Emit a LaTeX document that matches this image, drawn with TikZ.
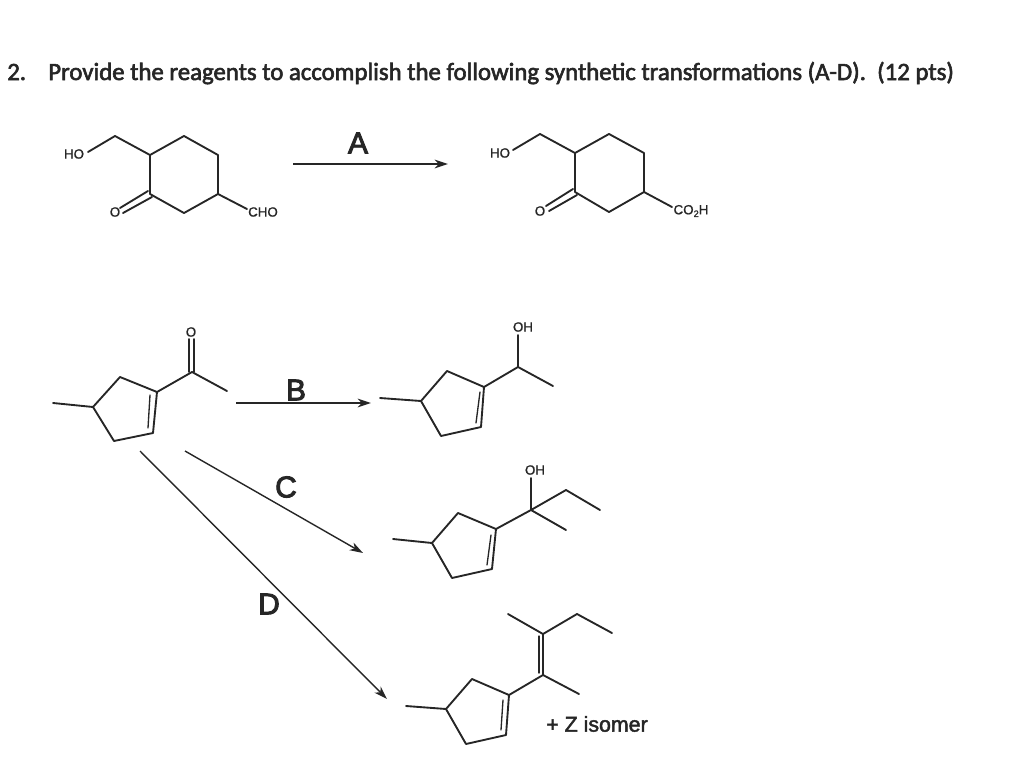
\documentclass[tikz,border=0pt]{standalone}
\usepackage{fontspec}
\setmainfont{Liberation Sans}
\newfontfamily\titlefont[FakeBold=2.4]{Carlito}
\newfontfamily\heavyfont[FakeBold=3]{Liberation Sans}
\newfontfamily\notefont[FakeBold=2]{Liberation Sans}
\newfontfamily\atomfont[FakeBold=1]{Liberation Sans}
\usetikzlibrary{arrows.meta}
\definecolor{ink}{HTML}{262626}
\tikzset{
  x=0.75pt,y=-0.75pt,
  bond/.style={draw=ink,line width=1.4pt,line cap=round,line join=round},
  thin bond/.style={draw=ink,line width=1pt,line cap=round},
  rxn/.style={draw=ink,line width=1.05pt,-{Stealth[length=10pt,width=6.5pt,inset=3pt]}},
  atom/.style={inner sep=0pt,text=ink,font=\atomfont\fontsize{10}{10}\selectfont},
  letter/.style={inner sep=0pt,text=ink,font=\heavyfont\fontsize{22.5}{22.5}\selectfont},
  note/.style={inner sep=0pt,text=ink,font=\notefont\fontsize{16}{16}\selectfont},
  heading/.style={inner sep=0pt,anchor=base west,text=ink,font=\titlefont\fontsize{18.6}{18.6}\selectfont}
}
\begin{document}
\begin{tikzpicture}
\useasboundingbox (0,0) rectangle (1024,778);
\fill[white] (0,0) rectangle (1024,778);
% heading
\node[heading] (num) at (7,80) {2.};
\node[heading] (title) at (48,80) {Provide the reagents to accomplish the following synthetic transformations (A-D).\ \ (12 pts)};
% molecule A left
\node[atom] (hoa) at (74,154) {HO};
\node[atom] (oa) at (115,212) {O};
\node[atom] (choa) at (263,212) {CHO};
\coordinate (a0) at (115,136);
\coordinate (a1) at (150,155);
\coordinate (a2) at (184,136);
\coordinate (a3) at (218,155);
\coordinate (a4) at (218,194);
\coordinate (a5) at (184,213);
\coordinate (a6) at (150,194);
\coordinate (ab1) at (88,152);
\coordinate (ab2) at (247,209);
\coordinate (ad1) at (152,197);
\coordinate (ad2) at (123,213);
\coordinate (ad3) at (148,191);
\coordinate (ad4) at (120,208);
\draw[bond] (ab1) -- (a0) -- (a1) -- (a2) -- (a3) -- (a4) -- (a5) -- (a6) -- (a1);
\draw[bond] (a4) -- (ab2);
\draw[bond] (ad1) -- (ad2);
\draw[bond] (ad3) -- (ad4);
% molecule A right
\node[atom] (hob) at (500,153) {HO};
\node[atom] (ob) at (540,211) {O};
\node[atom] (cooh) at (691,211) {CO\raisebox{-2pt}{\fontsize{7}{7}\selectfont 2}H};
\coordinate (b0) at (540,134);
\coordinate (b1) at (575,153);
\coordinate (b2) at (609,134);
\coordinate (b3) at (644,153);
\coordinate (b4) at (644,192);
\coordinate (b5) at (609,212);
\coordinate (b6) at (575,192);
\coordinate (bb1) at (513,150);
\coordinate (bb2) at (672,207);
\coordinate (bd1) at (577,195);
\coordinate (bd2) at (549,211);
\coordinate (bd3) at (573,189);
\coordinate (bd4) at (546,206);
\draw[bond] (bb1) -- (b0) -- (b1) -- (b2) -- (b3) -- (b4) -- (b5) -- (b6) -- (b1);
\draw[bond] (b4) -- (bb2);
\draw[bond] (bd1) -- (bd2);
\draw[bond] (bd3) -- (bd4);
% molecule B left
\node[atom] (oc) at (191,332) {O};
\coordinate (cm) at (53,403);
\coordinate (c1) at (93,407);
\coordinate (c2) at (120,377);
\coordinate (c3) at (157,392);
\coordinate (c4) at (153,433);
\coordinate (c5) at (114,441);
\coordinate (c6) at (192,372);
\coordinate (c7) at (227,391);
\coordinate (ci1) at (150,395);
\coordinate (ci2) at (148,428);
\coordinate (cd1) at (189,372);
\coordinate (cd2) at (189,339);
\coordinate (cd3) at (194,372);
\coordinate (cd4) at (194,339);
\draw[bond] (cm) -- (c1) -- (c2) -- (c3) -- (c4) -- (c5) -- (c1);
\draw[bond] (c3) -- (c6) -- (c7);
\draw[thin bond] (ci1) -- (ci2);
\draw[bond] (cd1) -- (cd2);
\draw[bond] (cd3) -- (cd4);
% molecule B right
\node[atom] (ohd) at (523,327) {OH};
\coordinate (dm) at (380,398);
\coordinate (d1) at (421,401);
\coordinate (d2) at (447,371);
\coordinate (d3) at (484,387);
\coordinate (d4) at (481,427);
\coordinate (d5) at (441,436);
\coordinate (d6) at (518,367);
\coordinate (d7) at (553,386);
\coordinate (d8) at (518,335);
\coordinate (di1) at (480,392);
\coordinate (di2) at (476,423);
\draw[bond] (dm) -- (d1) -- (d2) -- (d3) -- (d4) -- (d5) -- (d1);
\draw[bond] (d3) -- (d6) -- (d7);
\draw[bond] (d6) -- (d8);
\draw[thin bond] (di1) -- (di2);
% molecule C
\node[atom] (ohe) at (535,470) {OH};
\coordinate (em) at (393,539);
\coordinate (e1) at (432,543);
\coordinate (e2) at (458,513);
\coordinate (e3) at (496,529);
\coordinate (e4) at (492,569);
\coordinate (e5) at (452,578);
\coordinate (e6) at (531,510);
\coordinate (e7) at (566,490);
\coordinate (e8) at (600,510);
\coordinate (e9) at (566,530);
\coordinate (e10) at (531,478);
\coordinate (ei1) at (491,535);
\coordinate (ei2) at (487,565);
\draw[bond] (em) -- (e1) -- (e2) -- (e3) -- (e4) -- (e5) -- (e1);
\draw[bond] (e3) -- (e6) -- (e7) -- (e8);
\draw[bond] (e6) -- (e9);
\draw[bond] (e6) -- (e10);
\draw[thin bond] (ei1) -- (ei2);
% molecule D
\coordinate (fm) at (406,706);
\coordinate (f1) at (446,709);
\coordinate (f2) at (472,679);
\coordinate (f3) at (509,695);
\coordinate (f4) at (506,735);
\coordinate (f5) at (466,744);
\coordinate (f6) at (543,675);
\coordinate (f7) at (543,634);
\coordinate (f8) at (508,614);
\coordinate (f9) at (577,614);
\coordinate (f10) at (612,633);
\coordinate (f11) at (579,694);
\coordinate (fi1) at (503,700);
\coordinate (fi2) at (501,730);
\coordinate (fd1) at (539,636);
\coordinate (fd2) at (539,673);
\draw[bond] (fm) -- (f1) -- (f2) -- (f3) -- (f4) -- (f5) -- (f1);
\draw[bond] (f3) -- (f6) -- (f7) -- (f9) -- (f10);
\draw[bond] (f7) -- (f8);
\draw[bond] (f6) -- (f11);
\draw[thin bond] (fi1) -- (fi2);
\draw[thin bond] (fd1) -- (fd2);
\node[note] (zi) at (597,724) {+ Z isomer};
% reaction arrows
\coordinate (ra1) at (293,164);
\coordinate (ra2) at (448,164);
\coordinate (rb1) at (236,403);
\coordinate (rb2) at (371,403);
\coordinate (rc1) at (185,451);
\coordinate (rc2) at (363,553);
\coordinate (rd1) at (140,451);
\coordinate (rd2) at (387,699);
\draw[rxn] (ra1) -- (ra2);
\draw[rxn] (rb1) -- (rb2);
\draw[rxn] (rc1) -- (rc2);
\draw[rxn] (rd1) -- (rd2);
\node[letter] (la) at (358,143) {A};
\node[letter] (lb) at (296,390) {B};
\node[letter] (lc) at (286,487) {C};
\node[letter] (ld) at (269,604) {D};
\end{tikzpicture}
\end{document}
